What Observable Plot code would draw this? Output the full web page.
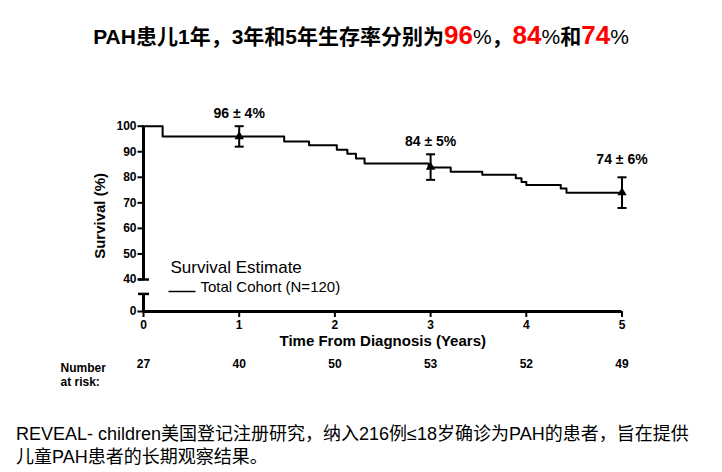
<!DOCTYPE html>
<html>
<head>
<meta charset="utf-8">
<script src="https://cdn.jsdelivr.net/npm/d3@7"></script>
<script src="https://cdn.jsdelivr.net/npm/@observablehq/plot@0.6"></script>
<style>
  body { margin: 0; background: #fff; width: 722px; height: 472px; overflow: hidden; }
  #title { height: 70px; box-sizing: border-box; padding-top: 21px; text-align: center;
    font-family: "Liberation Sans", Arial, "Noto Sans CJK SC", sans-serif; font-weight: bold;
    font-size: 21px; line-height: 28px; color: #000; white-space: nowrap; }
  #title .red { color: #f00; font-size: 26px; }
  #title .pct { font-weight: normal; }
  #chart svg { display: block; }
  #caption { box-sizing: border-box; padding: 13px 0 0 16px; font-size: 18px; line-height: 23px;
    font-family: "Liberation Sans", Arial, "Noto Sans CJK SC", sans-serif; color: #000; }
</style>
</head>
<body>
<div id="title"></div>
<div id="chart"></div>
<div id="caption"></div>
<script>
// ---- data ----
const stepTimes = [0, 0.20, 1.47, 1.73, 2.02, 2.13, 2.22, 2.31, 2.98, 3.21, 3.54, 3.89, 3.95, 4.00, 4.36, 4.42, 5.0];
const stepSurvival = [100, 96, 94, 92.5, 90.8, 89.2, 87.4, 85.4, 83.8, 82.2, 81.0, 79.6, 78.2, 77.0, 75.6, 74.0, 74.0];
const estYears = [1, 3, 5];
const estValues = [96, 84, 74];
const estErrors = [4, 5, 6];
const riskYears = [0, 1, 2, 3, 4, 5];
const riskCounts = [27, 40, 50, 53, 52, 49];
const xTicks = [0, 1, 2, 3, 4, 5];
const yTicks = [0, 40, 50, 60, 70, 80, 90, 100];
const yBreak = [22, 40]; // lower segment top, upper segment bottom
const titleParts = [["PAH患儿1年，3年和5年生存率分别为", ""], ["96", "red"], ["%", "pct"], ["，", ""], ["84", "red"], ["%", "pct"], ["和", ""], ["74", "red"], ["%", "pct"]];
const captionText = "REVEAL- children美国登记注册研究，纳入216例≤18岁确诊为PAH的患者，旨在提供<br>儿童PAH患者的长期观察结果。";

// ---- build tables ----
const steps = stepTimes.map((t, i) => ({t, s: stepSurvival[i]}));
const est = estYears.map((t, i) => ({t, s: estValues[i], e: estErrors[i]}));
const risk = riskYears.map((t, i) => ({t, n: riskCounts[i]}));

const hbar = {draw(ctx, size) { const r = Math.sqrt(size / Math.PI); ctx.moveTo(-r, 0); ctx.lineTo(r, 0); }};
const ltick = {draw(ctx, size) { const r = Math.sqrt(size / Math.PI); ctx.moveTo(-r, 0); ctx.lineTo(0, 0); }};
const font = "Liberation Sans, Arial, sans-serif";

// broken axis: 0–40 compressed (32px) relative to 40–100 (~25.5px per 10)
const squeeze = 0.313;
const brk = v => (v >= 40 ? v : 40 - (40 - v) * squeeze);

document.getElementById("title").innerHTML = titleParts.map(([s, c]) => c ? `<span class="${c}">${s}</span>` : s).join("");
document.getElementById("caption").innerHTML = captionText;

const chart = Plot.plot({
  width: 722,
  height: 340,
  marginLeft: 143,
  marginRight: 100.5,
  marginTop: 55.7,
  marginBottom: 99,
  style: {fontFamily: font, color: "#000", background: "#fff", overflow: "visible"},
  x: {domain: [0, 5]},
  y: {type: "linear", domain: [brk(0), 100], axis: null},
  marks: [
    // axes lines
    Plot.ruleY([0], {y: brk, x1: 0, x2: 5, strokeWidth: 3}),
    Plot.ruleX([0], {y1: brk(yBreak[1]), y2: 100, strokeWidth: 3}),
    Plot.ruleX([0], {y1: brk(0), y2: brk(yBreak[0]), strokeWidth: 3}),
    Plot.dot(yBreak, {x: 0, y: brk, symbol: hbar, r: 5.5, stroke: "#000", fill: "none", strokeWidth: 2.5}),
    // y axis ticks + labels
    Plot.dot(yTicks, {x: 0, y: brk, symbol: ltick, r: 6, stroke: "#000", fill: "none", strokeWidth: 2}),
    Plot.text(yTicks, {x: 0, y: brk, text: d => String(d), dx: -7, textAnchor: "end", fontSize: 12, fontWeight: "bold"}),
    Plot.axisX({ticks: xTicks, tickFormat: d => String(d), tickSize: 6, tickPadding: 3, strokeWidth: 2, label: null, fontSize: 12, fontWeight: "bold"}),
    // curve
    Plot.line(steps, {x: "t", y: d => brk(d.s), curve: "step-after", stroke: "#000", strokeWidth: 2}),
    // error bars
    Plot.ruleX(est, {x: "t", y1: d => brk(d.s - d.e), y2: d => brk(d.s + d.e), strokeWidth: 2}),
    Plot.dot(est, {x: "t", y: d => brk(d.s - d.e), symbol: hbar, r: 4.5, stroke: "#000", fill: "none", strokeWidth: 2}),
    Plot.dot(est, {x: "t", y: d => brk(d.s + d.e), symbol: hbar, r: 4.5, stroke: "#000", fill: "none", strokeWidth: 2}),
    Plot.dot(est, {x: "t", y: d => brk(d.s), symbol: "triangle", r: 3.5, fill: "#000", stroke: "none"}),
    Plot.text(est.slice(0, 2), {x: "t", y: d => brk(d.s + d.e), text: d => `${d.s} ± ${d.e}%`, dy: -13, fontSize: 14, fontWeight: "bold"}),
    Plot.text(est.slice(2), {x: "t", y: d => brk(d.s + d.e), text: d => `${d.s} ± ${d.e}%`, dy: -18, fontSize: 14, fontWeight: "bold"}),
    // axis titles
    Plot.text(["Survival (%)"], {frameAnchor: "left", dx: -43, dy: 40, rotate: -90, fontSize: 15, fontWeight: "bold"}),
    Plot.text(["Time From Diagnosis (Years)"], {frameAnchor: "bottom", dy: 34, fontSize: 15, fontWeight: "bold"}),
    // legend
    Plot.text(["Survival Estimate"], {frameAnchor: "bottom-left", dx: 27, dy: -39, textAnchor: "start", fontSize: 17}),
    Plot.dot([0], {frameAnchor: "bottom-left", dx: 38.5, dy: -20, symbol: hbar, r: 13.5, stroke: "#000", fill: "none", strokeWidth: 1.5}),
    Plot.text(["Total Cohort (N=120)"], {frameAnchor: "bottom-left", dx: 57, dy: -20, textAnchor: "start", fontSize: 15}),
    // number at risk
    Plot.text(["Number\nat risk:"], {frameAnchor: "bottom-left", dx: -83, dy: 63, textAnchor: "start", lineAnchor: "middle", lineHeight: 1.2, fontSize: 12, fontWeight: "bold"}),
    Plot.text(risk, {x: "t", text: d => String(d.n), frameAnchor: "bottom", dy: 56, fontSize: 12, fontWeight: "bold"})
  ]
});
document.getElementById("chart").appendChild(chart);
</script>
</body>
</html>
